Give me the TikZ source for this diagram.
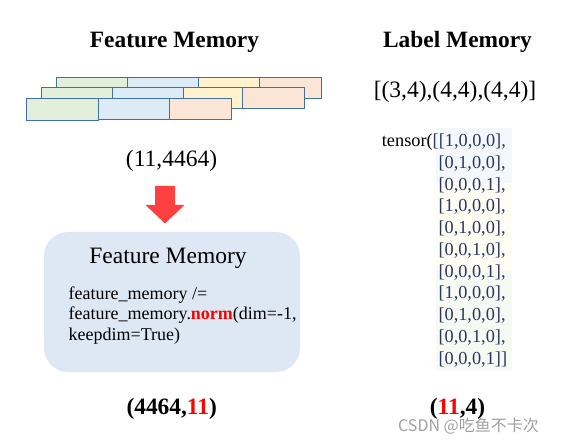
\documentclass[tikz,border=0pt]{standalone}
\usepackage{fontspec}
\setmainfont{Liberation Serif}
\newfontfamily\cjkfont{Noto Sans CJK SC}
\definecolor{cgreen}{HTML}{E2EFDA}
\definecolor{cblue}{HTML}{DDEBF7}
\definecolor{cyellow}{HTML}{FFF2CC}
\definecolor{cpeach}{HTML}{FBE5D6}
\definecolor{cedge}{HTML}{41719C}
\definecolor{boxfill}{HTML}{DEE8F4}
\definecolor{arrowred}{HTML}{FF4040}
\definecolor{navytext}{HTML}{283860}
\definecolor{bandblue}{HTML}{F4F8FD}
\definecolor{bandyellow}{HTML}{FFFCF4}
\definecolor{bandgreen}{HTML}{F6FAF3}
\definecolor{wmgray}{HTML}{A0A0A0}
\tikzset{
  cell/.style={draw=cedge, line width=1pt},
  txt/.style={inner sep=0pt, anchor=base},
  txtw/.style={inner sep=0pt, anchor=base west},
  bigbold/.style={font=\fontsize{23.4}{27}\selectfont\bfseries},
  bigreg/.style={font=\fontsize{23.5}{27}\selectfont},
  codef/.style={font=\fontsize{18}{21}\selectfont},
  tensf/.style={font=\fontsize{18.3}{21}\selectfont},
}
\begin{document}
\begin{tikzpicture}[x=1pt,y=-1pt]
\useasboundingbox (0,0) rectangle (585,443);
% feature memory blocks: top row
\filldraw[cell, fill=cgreen] (56,77.5) rectangle (127,98.5);
\filldraw[cell, fill=cblue] (127,77.5) rectangle (198,98.5);
\filldraw[cell, fill=cyellow] (198,77.5) rectangle (259,98.5);
\filldraw[cell, fill=cpeach] (259,77.5) rectangle (321,98.5);
% middle row
\filldraw[cell, fill=cgreen] (41,87.5) rectangle (112,108.5);
\filldraw[cell, fill=cblue] (112,87.5) rectangle (183,108.5);
\filldraw[cell, fill=cyellow] (183,87.5) rectangle (242,108.5);
\filldraw[cell, fill=cpeach] (242,87.5) rectangle (304,108.5);
% bottom row
\filldraw[cell, fill=cblue] (98,98.5) rectangle (169,120);
\filldraw[cell, fill=cpeach] (169,98.5) rectangle (231,120);
\filldraw[cell, fill=cgreen] (26,98.5) rectangle (98,121);
% titles
\node[txt, bigbold] (t1) at (174.5,48) {Feature Memory};
\node[txt, bigbold] (t2) at (457.5,48) {Label Memory};
\node[txt, bigreg] (lbl) at (455,97.5) {[(3,4),(4,4),(4,4)]};
\node[txt, bigreg] (shp1) at (171.5,167) {(11,4464)};
% red arrow
\fill[arrowred] (155,186) -- (175,186) -- (175,205) -- (184.5,205) -- (165,223.5) -- (145.5,205) -- (155,205) -- cycle;
% rounded box
\fill[boxfill, rounded corners=24pt] (44,232) rectangle (300,372);
\node[txt, bigreg] (bt) at (168,263.5) {Feature Memory};
\node[txtw, codef] (c1) at (68.5,299) {feature\_memory /=};
\node[txtw, codef] (c2) at (68.5,319.5) {feature\_memory.\textcolor{red}{\bfseries norm}(dim=-1,};
\node[txtw, codef] (c3) at (68.5,340) {keepdim=True)};
% tensor bands
\fill[bandblue] (436,128) rectangle (512,183);
\fill[bandyellow] (436,183) rectangle (512,271);
\fill[bandgreen] (436,271) rectangle (512,370);
% tensor text
\node[txtw, tensf] (r1) at (381.7,146.7) {tensor(\textcolor{navytext}{[[1,0,0,0],}};
\foreach \row [count=\i from 2] in {{[0,1,0,0],},{[0,0,0,1],},{[1,0,0,0],},{[0,1,0,0],},{[0,0,1,0],},{[0,0,0,1],},{[1,0,0,0],},{[0,1,0,0],},{[0,0,1,0],},{[0,0,0,1]]}}
  \node[txtw, tensf, text=navytext] (r\i) at (438.3,146.7+21.73*\i-21.73) {\row};
% bottom shapes
\node[txt, bigbold] (s1) at (171.7,414) {(4464,\textcolor{red}{11})};
\node[txt, bigbold] (s2) at (457.5,414) {(\textcolor{red}{11},4)};
% watermark
\node[txtw, font=\cjkfont\fontsize{16}{18}\selectfont, text=wmgray] (wm) at (398,431) {CSDN @吃鱼不卡次};
\end{tikzpicture}
\end{document}
